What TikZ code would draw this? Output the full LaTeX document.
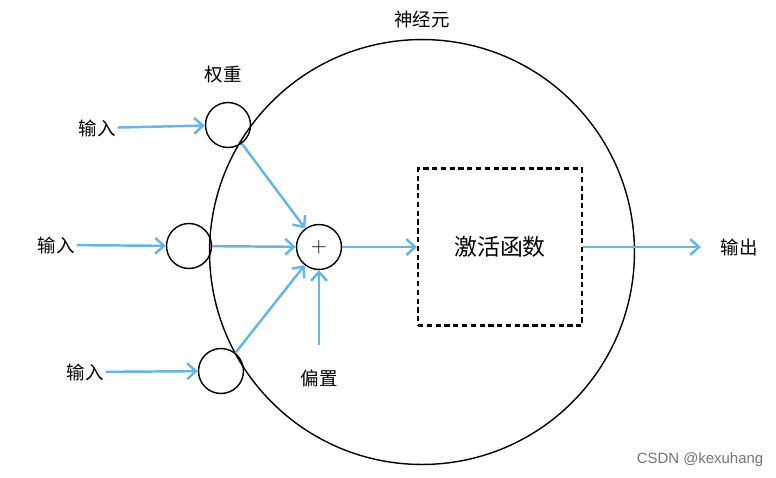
\documentclass[tikz,border=0pt]{standalone}
\usepackage{fontspec}
\setmainfont{Noto Sans CJK SC}[BoldFont={Noto Sans CJK SC Bold}]
\newfontfamily\markfont{Liberation Sans}
\usetikzlibrary{arrows.meta,positioning}
\definecolor{inblue}{RGB}{100,182,230}
\tikzset{
	wire/.style = {-{Straight Barb[length=5pt,width=9pt]}, inblue, line width=1.4pt}, % blue input arrows
	unit/.style = {circle, draw, line width=0.8pt, minimum size=0.9cm, inner sep=0pt},
	lbl/.style = {font=\fontsize{10.5}{12}\selectfont, inner sep=1pt}
}

\begin{document}
\begin{tikzpicture}[x=0.02cm,y=-0.02cm]
	\useasboundingbox (0,0) rectangle (776,477);
	% the neuron body
	\node[circle, draw, line width=0.8pt, minimum size=8.5cm] (neuron) at (422,252) {};
	\node[lbl] (title) at (422,19) {神经元};
	% weights
	\node[unit] (w1) at (228,125) {};
	\node[unit] (w2) at (189,246) {};
	\node[unit] (w3) at (221,371) {};
	\node[lbl] (wt) at (223,75) {权重};
	\node[lbl] (in1) at (97,128) {输入};
	\node[lbl] (in2) at (56,245) {输入};
	\node[lbl] (in3) at (85,372) {输入};
	% sum, bias, activation
	\node[unit] (plus) at (319,247) {\large $+$};
	\node[lbl] (bias) at (319,378) {偏置};
	\node[draw, densely dashed, line width=1.2pt, minimum width=3.28cm, minimum height=3.14cm,
		font=\fontsize{13}{15}\selectfont] (act) at (500,247) {激活函数};
	\node[lbl] (out) at (739,247) {输出};
	\node[font=\markfont\fontsize{8.5}{10}\selectfont, text=black!55] (mark) at (700,460) {CSDN @kexuhang};

	\draw[wire] (in1) -- (w1);
	\draw[wire] (in2) -- (w2);
	\draw[wire] (in3) -- (w3);
	\draw[wire] (w1) -- (plus);
	\draw[wire] (w2) -- (plus);
	\draw[wire] (w3) -- (plus);
	\draw[wire] (bias.north) ++(0,-22) coordinate (bt) (bt) -- (plus);
	\draw[wire] (plus) -- (act);
	\draw[wire, shorten >=10pt] (act) -- (out);
\end{tikzpicture}
\end{document}
